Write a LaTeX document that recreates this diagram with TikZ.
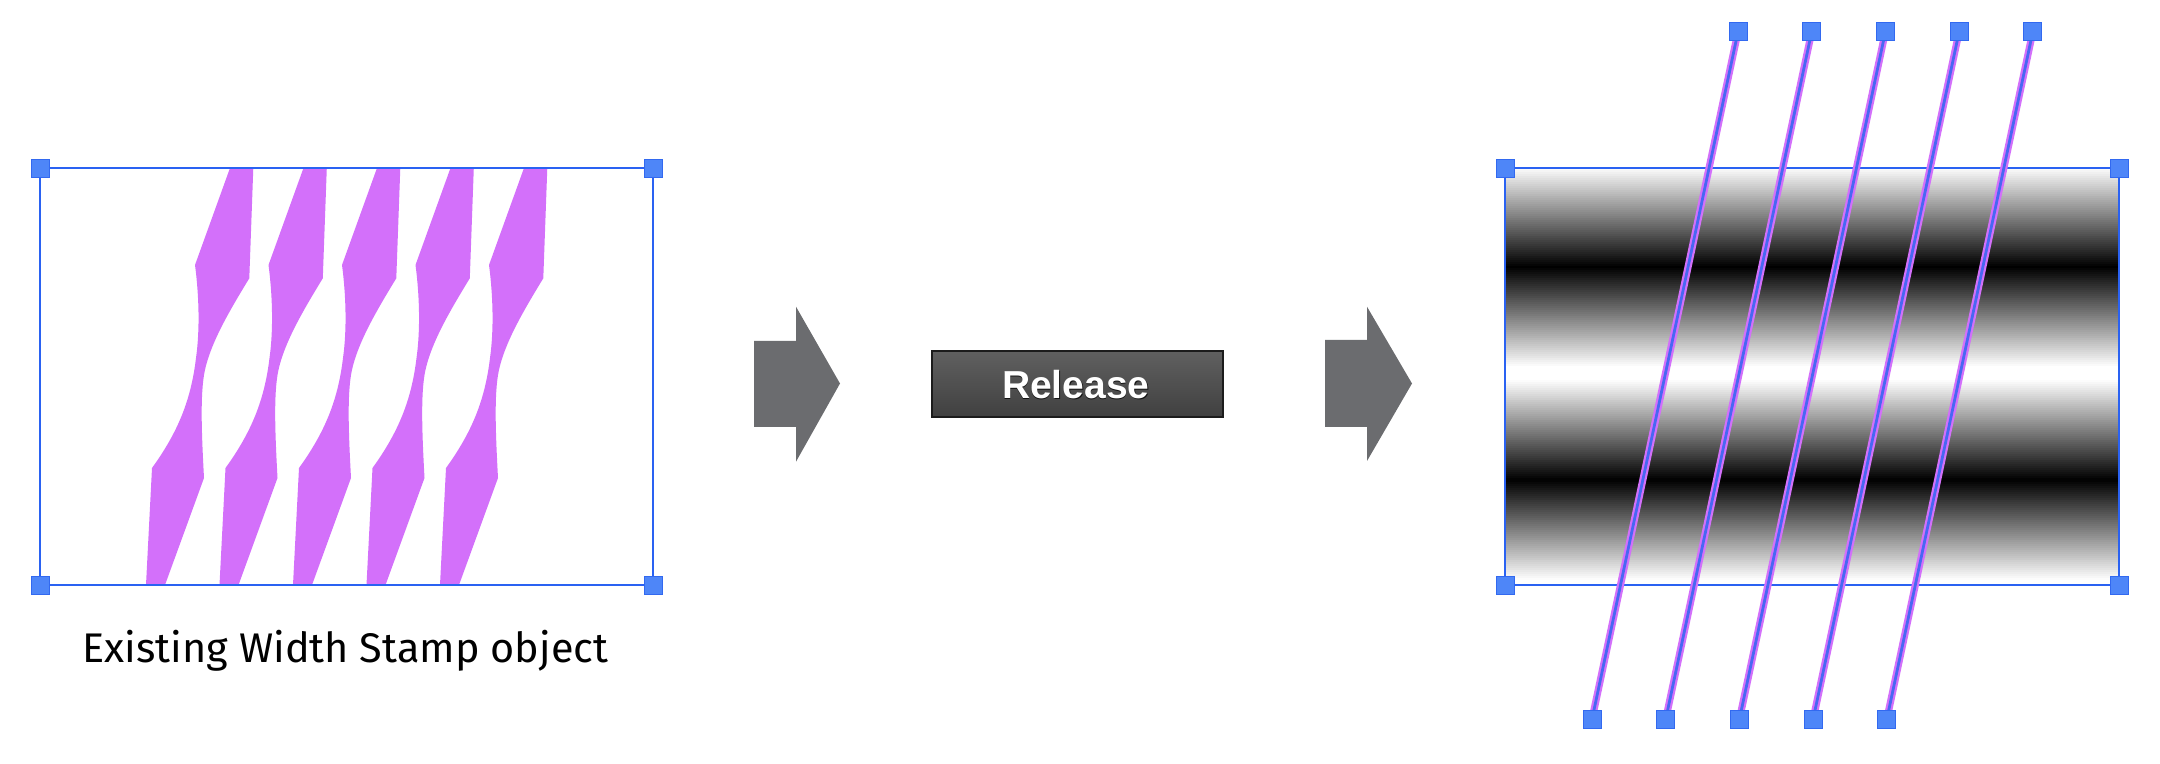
\documentclass[tikz,border=0pt]{standalone}
\usepackage{fontspec}
\newfontfamily\labelfont{Fira Sans}
\newfontfamily\btnfont{Liberation Sans}
\definecolor{selblue}{RGB}{42,98,242}
\definecolor{handleblue}{RGB}{78,134,248}
\definecolor{handleedge}{RGB}{50,105,240}
\definecolor{stampviolet}{RGB}{211,112,250}
\definecolor{pathblue}{RGB}{72,104,242}
\definecolor{arrowgray}{RGB}{107,108,111}
\definecolor{btntop}{RGB}{96,96,96}
\definecolor{btnbot}{RGB}{64,64,64}
\definecolor{btnedge}{RGB}{28,28,28}
\begin{document}
\begin{tikzpicture}[x=0.5pt,y=-0.5pt,
  handle/.style={shape=rectangle,draw=handleedge,line width=0.4pt,fill=handleblue,minimum size=9pt,inner sep=0pt,outer sep=0pt},
  selbox/.style={draw=selblue,line width=1.4pt},
  stamp/.style={fill=stampviolet},
  bigarrow/.style={fill=arrowgray},
  pathouter/.style={draw=stampviolet,line width=3.6pt},
  pathinner/.style={draw=pathblue,line width=1.4pt},
  btnbox/.style={draw=btnedge,line width=1pt,top color=btntop,bottom color=btnbot,minimum width=145.5pt,minimum height=33.3pt,inner sep=0pt},
  btntext/.style={font=\btnfont\bfseries\fontsize{19.5}{22}\selectfont,anchor=base,inner sep=0pt}]
\useasboundingbox (0,0) rectangle (2160,764);

% ---------- left: existing width stamp object ----------
\coordinate (L1) at (40,168);
\coordinate (L2) at (653,168);
\coordinate (L3) at (653,585);
\coordinate (L4) at (40,585);
\foreach \i in {0,...,4}{
  \begin{scope}[shift={(73.5*\i,0)}]
    \fill[stamp] (230,168) -- (195,265)
      .. controls (199,295) and (200,330) .. (196,358)
      .. controls (191,400) and (178,432) .. (152,468)
      -- (146,585) -- (165,585) -- (204,478)
      .. controls (202,440) and (200,400) .. (204,375)
      .. controls (209,345) and (230,310) .. (249.3,278.3)
      -- (253.3,168) -- cycle;
  \end{scope}
}
\draw[selbox] (L1) rectangle (L3);
\foreach \c in {L1,L2,L3,L4}{\node[handle] (h\c) at (\c) {};}
\node[font=\labelfont\fontsize{20.7}{24}\selectfont,anchor=base,inner sep=0pt] (caption) at (345.5,662) {Existing Width Stamp object};

% ---------- arrows ----------
\fill[bigarrow] (754,341) -- (796,341) -- (796,306.7) -- (840,383.5) -- (796,461.7) -- (796,427) -- (754,427) -- cycle;
\fill[bigarrow] (1325,340) -- (1367,340) -- (1367,306.7) -- (1412,383.5) -- (1367,461) -- (1367,427) -- (1325,427) -- cycle;

% ---------- release button ----------
\node[btnbox] (release) at (1077.8,384) {};
\node[btntext,text=black,opacity=0.75] (releaseshadow) at (1076.3,399.8) {Release};
\node[btntext,text=white] (releasetext) at (1075.8,398.3) {Release};

% ---------- right: released result ----------
\foreach \yy in {168,170,...,584}{
  \pgfmathtruncatemacro{\pct}{100*(1-min(1,min(abs(\yy+1-267),abs(\yy+1-480))/100))}
  \fill[black!\pct] (1505,\yy) rectangle (2119,\yy+2.4);
}
\coordinate (R1) at (1505,168);
\coordinate (R2) at (2119,168);
\coordinate (R3) at (2119,585);
\coordinate (R4) at (1505,585);
\draw[selbox] (R1) rectangle (R3);
\foreach \i in {1,...,5}{
  \coordinate (T\i) at ({1738+73.7*(\i-1)},31.7);
  \coordinate (B\i) at ({1592+73.7*(\i-1)},719.3);
}
\foreach \i in {1,...,5}{
  \draw[pathouter] (T\i) -- (B\i);
  \draw[pathinner] (T\i) -- (B\i);
}
\foreach \c in {R1,R2,R3,R4,T1,T2,T3,T4,T5,B1,B2,B3,B4,B5}{\node[handle] (h\c) at (\c) {};}
\end{tikzpicture}
\end{document}
